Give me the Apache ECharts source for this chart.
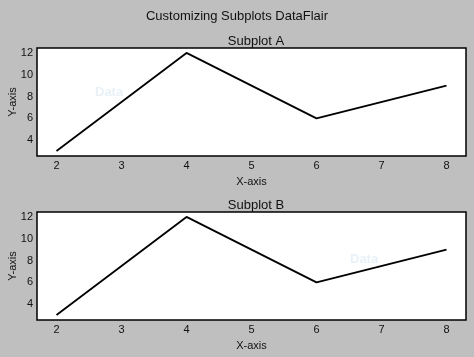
<!DOCTYPE html>
<html><head><meta charset="utf-8">
<script src="https://cdn.jsdelivr.net/npm/echarts@6/dist/echarts.min.js"></script>
<style>html,body{margin:0;padding:0;background:#bfbfbf}#c{width:474px;height:357px}</style>
</head><body><div id="c"></div>
<script>
const mainTitle = "Customizing Subplots DataFlair";
const subTitles = ["Subplot A", "Subplot B"];
const xValues = [2, 4, 6, 8];
const yA = [3, 12, 6, 9];
const yB = [3, 12, 6, 9];
const xTicks = [2, 3, 4, 5, 6, 7, 8];
const yTicks = [4, 6, 8, 10, 12];
const xName = "X-axis", yName = "Y-axis";

const font = "Liberation Sans, Arial, sans-serif";
const chart = echarts.init(document.getElementById('c'));
const grids = [
  {left: 37, right: 8, top: 48, height: 108},
  {left: 37, right: 8, top: 212, height: 108}
];
function xAx(i){return {gridIndex:i,type:'value',min:1.7,max:8.3,
  name:xName,nameLocation:'middle',nameGap:20,nameMoveOverlap:false,nameTextStyle:{color:'#111',fontSize:11,fontFamily:font},
  axisLine:{show:false},splitLine:{show:false},
  axisTick:{show:false,customValues:xTicks},
  axisLabel:{customValues:xTicks,color:'#111',fontSize:11,fontFamily:font,margin:4}};}
function yAx(i){return {gridIndex:i,type:'value',min:2.55,max:12.45,
  name:yName,nameLocation:'middle',nameGap:19,nameMoveOverlap:false,nameTextStyle:{color:'#111',fontSize:11,fontFamily:font},
  axisLine:{show:false},splitLine:{show:false},
  axisTick:{show:false,customValues:yTicks},
  axisLabel:{customValues:yTicks,color:'#111',fontSize:11,fontFamily:font,margin:4}};}
chart.setOption({
  backgroundColor:'#bfbfbf',
  animation:false,
  title:[
    {text:mainTitle,left:'center',top:5,textStyle:{fontSize:13,fontWeight:'normal',color:'#111',fontFamily:font}},
    {text:subTitles[0],left:251,textAlign:'center',top:30,textStyle:{fontSize:13,fontWeight:'normal',color:'#111',fontFamily:font}},
    {text:subTitles[1],left:251,textAlign:'center',top:194,textStyle:{fontSize:13,fontWeight:'normal',color:'#111',fontFamily:font}}
  ],
  grid:grids.map(g=>Object.assign({show:true,backgroundColor:'#fff',borderColor:'#000',borderWidth:1.5,containLabel:false,outerBoundsMode:'none'},g)),
  xAxis:[xAx(0),xAx(1)],
  yAxis:[yAx(0),yAx(1)],
  graphic:[
    {type:'text',left:95,top:86,z:1,style:{text:'Data',fill:'rgba(120,180,210,0.18)',font:'bold 13px '+font}},
    {type:'text',left:350,top:253,z:1,style:{text:'Data',fill:'rgba(120,180,210,0.18)',font:'bold 13px '+font}}
  ],
  series:[
    {type:'line',xAxisIndex:0,yAxisIndex:0,data:xValues.map((x,i)=>[x,yA[i]]),symbol:'none',lineStyle:{color:'#000',width:1.8},z:5},
    {type:'line',xAxisIndex:1,yAxisIndex:1,data:xValues.map((x,i)=>[x,yB[i]]),symbol:'none',lineStyle:{color:'#000',width:1.8},z:5}
  ]
});
</script></body></html>
